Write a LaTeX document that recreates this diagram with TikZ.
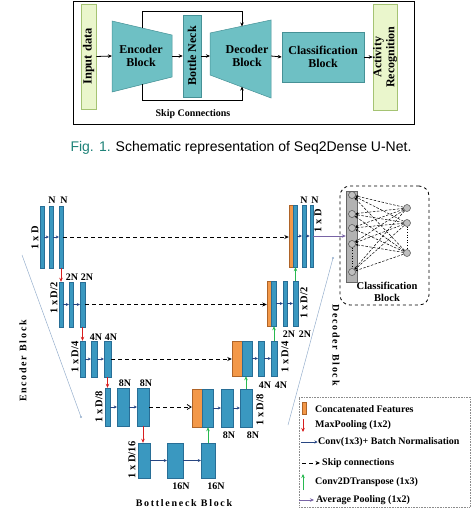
\documentclass[tikz,border=0pt]{standalone}
\usepackage{fontspec}
\setmainfont{Liberation Serif}
\newfontfamily\capfont{Liberation Sans}
\usetikzlibrary{arrows.meta}

\definecolor{topteal}{RGB}{110,192,196}
\definecolor{toptealline}{RGB}{70,145,150}
\definecolor{iofill}{RGB}{234,246,204}
\definecolor{ioline}{RGB}{165,195,115}
\definecolor{barfill}{RGB}{58,152,192}
\definecolor{barline}{RGB}{40,110,150}
\definecolor{catfill}{RGB}{243,152,72}
\definecolor{catline}{RGB}{175,100,40}
\definecolor{convblue}{RGB}{40,70,130}
\definecolor{poolred}{RGB}{215,30,30}
\definecolor{upgreen}{RGB}{40,185,80}
\definecolor{avgpurple}{RGB}{120,100,165}
\definecolor{diagblue}{RGB}{150,175,205}
\definecolor{figteal}{RGB}{30,130,120}

\tikzset{
  blk/.style={font=\bfseries\fontsize{12}{13}\selectfont, align=center, inner sep=0pt},
  iobox/.style={draw=ioline, fill=iofill, line width=0.6pt, inner sep=0pt},
  bar/.style={draw=barline, fill=barfill, line width=0.4pt, inner sep=0pt},
  cat/.style={draw=catline, fill=catfill, line width=0.4pt, inner sep=0pt},
  dim/.style={font=\bfseries\fontsize{10.5}{10.5}\selectfont, rotate=90, inner sep=0pt},
  nlab/.style={font=\bfseries\fontsize{10}{10}\selectfont, inner sep=0pt},
  leg/.style={font=\bfseries\fontsize{10}{10}\selectfont, anchor=west, inner sep=0pt},
  spaced/.style={font=\bfseries\fontsize{10}{10}\selectfont\addfontfeature{LetterSpace=17}, inner sep=0pt},
  flow/.style={-{Stealth[length=4pt,width=3.5pt]}, line width=0.8pt},
  conv/.style={-{Stealth[length=3pt,width=3pt]}, convblue, line width=0.6pt},
  pool/.style={-{Stealth[length=4pt,width=3.5pt]}, poolred, line width=0.7pt},
  upconv/.style={-{Stealth[length=4pt,width=3.5pt]}, upgreen, line width=0.7pt},
  skip/.style={-{Stealth[length=4.5pt,width=4pt]}, line width=0.8pt, dash pattern=on 4pt off 3pt},
  avg/.style={-{Stealth[length=4pt,width=3.5pt]}, avgpurple, line width=1pt},
  neuron/.style={circle, draw=black!70, fill=black!25, minimum size=7pt, inner sep=0pt, line width=0.5pt},
  diag/.style={diagblue, line width=0.5pt}
}

\begin{document}
\begin{tikzpicture}[x=1pt,y=-1pt]
\useasboundingbox (0,0) rectangle (474,532);

% Fig. 1 : block scheme
\draw[line width=0.6pt] (73,1.5) rectangle (414,124);
\node[iobox, minimum width=15pt, minimum height=105pt] (inp) at (88.5,56.5) {};
\node[blk, rotate=90, font=\bfseries\fontsize{12.5}{13}\selectfont] (inptxt) at (inp) {Input data};
\filldraw[fill=topteal, draw=toptealline, line width=0.5pt] (112,21) -- (172,35) -- (172,77) -- (112,92) -- cycle;
\node[blk] (enc) at (141,56) {Encoder\\Block};
\node[draw=toptealline, fill=topteal, line width=0.5pt, minimum width=18pt, minimum height=82pt, inner sep=0pt] (bn) at (192,56) {};
\node[blk, rotate=90] (bntxt) at (bn) {Bottle Neck};
\filldraw[fill=topteal, draw=toptealline, line width=0.5pt] (210,33) -- (271,20) -- (271,98) -- (210,75) -- cycle;
\node[blk] (dec) at (247,56) {Decoder\\Block};
\node[draw=toptealline, fill=topteal, line width=0.5pt, minimum width=82pt, minimum height=50pt, inner sep=0pt] (cls) at (323,57) {};
\node[blk] (clstxt) at (cls) {Classification\\Block};
\node[iobox, minimum width=24pt, minimum height=106pt] (act) at (385,57) {};
\node[blk, rotate=90] (acttxt) at (act) {Activity\\Recognition};

\coordinate (encL) at (112,56);
\coordinate (encR) at (172,56);
\coordinate (decL) at (210,56);
\coordinate (decR) at (271,56);
\coordinate (encT) at (142,28);
\coordinate (encB) at (142,84.5);
\coordinate (decT) at (242,26.5);
\coordinate (decB) at (242,86.5);
\draw[flow] (inp.east) -- (encL);
\draw[flow] (encR) -- (bn.west);
\draw[flow] (bn.east) -- (decL);
\draw[flow] (decR) -- (cls.west);
\draw[flow] (cls.east) -- (act.west);
\draw[flow] (encT) -- (encT |- 0,11) -| (decT);
\draw[flow] (encB) -- (encB |- 0,100) -| (decB);
\node[font=\bfseries\fontsize{10}{10}\selectfont] (skiptxt) at (193,114) {Skip Connections};

\node[font=\capfont\fontsize{14}{14}\selectfont] (cap) at (241,148)
  {\textcolor{figteal}{Fig. 1.}\hspace{5pt}Schematic representation of Seq2Dense U-Net.};

% Fig. 2 : encoder
\node[bar, minimum width=4pt, minimum height=62pt] (e1a) at (42,237) {};
\node[bar, minimum width=4pt, minimum height=62pt] (e1b) at (51,237) {};
\node[bar, minimum width=4pt, minimum height=62pt] (e1c) at (61,237) {};
\node[bar, minimum width=4pt, minimum height=45pt] (e2a) at (61,304.5) {};
\node[bar, minimum width=4pt, minimum height=45pt] (e2b) at (71,304.5) {};
\node[bar, minimum width=5pt, minimum height=45pt] (e2c) at (82.5,304.5) {};
\node[bar, minimum width=5pt, minimum height=36pt] (e3a) at (82.5,359) {};
\node[bar, minimum width=6pt, minimum height=36pt] (e3b) at (94,359) {};
\node[bar, minimum width=7pt, minimum height=36pt] (e3c) at (107.5,359) {};
\node[bar, minimum width=5pt, minimum height=38pt] (e4a) at (107.5,407) {};
\node[bar, minimum width=12pt, minimum height=38pt] (e4b) at (123,407) {};
\node[bar, minimum width=12pt, minimum height=38pt] (e4c) at (143,407) {};
% bottleneck
\node[bar, minimum width=12pt, minimum height=35pt] (b1) at (144,460.5) {};
\node[bar, minimum width=16pt, minimum height=35pt] (b2) at (175,460.5) {};
\node[bar, minimum width=14pt, minimum height=35pt] (b3) at (208,460.5) {};
% decoder
\node[cat, minimum width=10pt, minimum height=38pt] (d4o) at (197,408) {};
\node[bar, minimum width=11pt, minimum height=38pt] (d4a) at (207.5,408) {};
\node[bar, minimum width=12pt, minimum height=38pt] (d4b) at (227,408) {};
\node[bar, minimum width=12pt, minimum height=38pt] (d4c) at (246,408) {};
\node[cat, minimum width=10pt, minimum height=35pt] (d3o) at (237,358.5) {};
\node[bar, minimum width=10pt, minimum height=35pt] (d3a) at (247,358.5) {};
\node[bar, minimum width=6pt, minimum height=35pt] (d3b) at (261,358.5) {};
\node[bar, minimum width=6pt, minimum height=35pt] (d3c) at (274,358.5) {};
\node[cat, minimum width=4pt, minimum height=45pt] (d2o) at (269,303.5) {};
\node[bar, minimum width=5pt, minimum height=45pt] (d2a) at (273.5,303.5) {};
\node[bar, minimum width=4pt, minimum height=45pt] (d2b) at (285,303.5) {};
\node[bar, minimum width=5pt, minimum height=45pt] (d2c) at (295.5,303.5) {};
\node[cat, minimum width=4pt, minimum height=62pt] (d1o) at (291,236) {};
\node[bar, minimum width=4pt, minimum height=62pt] (d1a) at (295,236) {};
\node[bar, minimum width=4pt, minimum height=62pt] (d1b) at (304,236) {};
\node[bar, minimum width=3.5pt, minimum height=62pt] (d1c) at (311.5,236) {};

% conv arrows
\foreach \a/\b in {e1a/e1b,e1b/e1c,e2a/e2b,e2b/e2c,e3a/e3b,e3b/e3c,e4a/e4b,e4b/e4c,
                   b1/b2,b2/b3,d4a/d4b,d4b/d4c,d3a/d3b,d3b/d3c,d2a/d2b,d2b/d2c,d1a/d1b,d1b/d1c}
  \draw[conv] (\a) -- (\b);
% max pooling
\draw[pool] (e1c.south) -- (e2a.north);
\draw[pool] (e2c.south) -- (e3a.north);
\draw[pool] (e3c.south) -- (e4a.north);
\draw[pool] (e4c.south) -- (e4c.south |- b1.north);
% transpose conv
\draw[upconv] (b3.north) -- (b3.north |- d4a.south);
\draw[upconv] (d4c.north) -- (d4c.north |- d3a.south);
\draw[upconv] (d3c.north) -- (d3c.north |- d2a.south);
\draw[upconv] (d2c.north) -- (d2c.north |- d1a.south);
% skip connections
\draw[skip] (e1c.east) -- (e1c.east -| d1o.west);
\draw[skip] (e2c.east) -- (e2c.east -| d2o.west);
\draw[skip] (e3c.east) -- (e3c.east -| d3o.west);
\draw[skip, -{Straight Barb[length=4pt,width=5pt]}] (e4c.east) -- (e4c.east -| d4o.west);

% sizes
\node[nlab] (n1a) at (52,200) {N};
\node[nlab] (n1b) at (64,200) {N};
\node[nlab] (n2a) at (72,277) {2N};
\node[nlab] (n2b) at (87,277) {2N};
\node[nlab] (n3a) at (96,337) {4N};
\node[nlab] (n3b) at (111,337) {4N};
\node[nlab] (n4a) at (125,383) {8N};
\node[nlab] (n4b) at (146,383) {8N};
\node[nlab] (n5a) at (181,486) {16N};
\node[nlab] (n5b) at (216,486) {16N};
\node[nlab] (m4a) at (229,435) {8N};
\node[nlab] (m4b) at (253,435) {8N};
\node[nlab] (m3a) at (265,385) {4N};
\node[nlab] (m3b) at (281,385) {4N};
\node[nlab] (m2a) at (289,334) {2N};
\node[nlab] (m2b) at (305,334) {2N};
\node[nlab] (m1a) at (304,200) {N};
\node[nlab] (m1b) at (315,200) {N};

\node[dim] (s1) at (35,238) {1 x D};
\node[dim] (s2) at (54,298) {1 x D/2};
\node[dim] (s3) at (75,357) {1 x D/4};
\node[dim] (s4) at (99,407) {1 x D/8};
\node[dim] (s5) at (132,460) {1 x D/16};
\node[dim] (r4) at (260,410) {1 x D/8};
\node[dim] (r3) at (285,357) {1 x D/4};
\node[dim] (r2) at (304,303) {1 x D/2};
\node[dim] (r1) at (318,221) {1 x D};

% block names
\coordinate (encA) at (22,255);
\coordinate (encZ) at (81,417);
\coordinate (decA) at (288,425);
\coordinate (decZ) at (333,258);
\draw[diag] (encA) -- (encZ);
\fill[diagblue] (encZ) circle (1.2pt);
\draw[diag] (decA) -- (decZ);
\fill[diagblue] (decZ) circle (1.2pt);
\node[spaced, rotate=90] (enclab) at (23,361) {Encoder Block};
\node[spaced, rotate=-90] (declab) at (336,345) {Decoder Block};
\node[spaced] (bnlab) at (184,503) {Bottleneck Block};

% classification block
\node[draw, dashed, rounded corners=10pt, line width=0.8pt, minimum width=89pt, minimum height=119pt] (clsb) at (384.5,245.5) {};
\node[draw=black!60, fill=black!30, minimum width=11pt, minimum height=91pt, inner sep=0pt] (col) at (351.5,236.5) {};
\node[neuron] (p1) at (352,195) {};
\node[neuron] (p2) at (352,214) {};
\node[neuron] (p3) at (352,228) {};
\node[neuron] (p4) at (352,244) {};
\node[neuron] (p5) at (352,272) {};
\node[neuron] (q1) at (407,208) {};
\node[neuron] (q2) at (407,223) {};
\node[neuron] (q3) at (407,253) {};
\foreach \i in {1,...,5}
  \foreach \j in {1,2,3}
    \draw[line width=0.5pt, dash pattern=on 2.5pt off 1.5pt, -{Stealth[length=2.5pt,width=2.5pt]}] (q\j) -- (p\i);
\draw[dotted, line width=0.6pt] (p4) -- (p5);
\draw[dotted, line width=0.6pt] (q2) -- (q3);
\node[font=\bfseries\fontsize{10.5}{12}\selectfont, align=center] (clslab) at (387,292) {Classification\\Block};
\draw[avg] (d1c.east) -- (d1c.east -| col.west);

% legend
\node[draw=black!45, densely dotted, line width=0.6pt, minimum width=171pt, minimum height=110pt] (legend) at (384.5,452) {};
\node[cat, minimum width=4pt, minimum height=12pt] (lcat) at (304,408) {};
\node[leg] (t1) at (315,409) {Concatenated Features};
\coordinate (lpA) at (303,419);
\coordinate (lpB) at (303,432);
\draw[pool] (lpA) -- (lpB);
\node[leg] (t2) at (315,425) {MaxPooling (1x2)};
\coordinate (lcA) at (301,442);
\coordinate (lcB) at (317.5,442);
\draw[conv, line width=0.7pt] (lcA) -- (lcB);
\node[leg] (t3) at (318,442) {Conv(1x3)+ Batch Normalisation};
\coordinate (lsA) at (302,463);
\coordinate (lsB) at (320,463);
\draw[skip] (lsA) -- (lsB);
\node[leg] (t4) at (322,463) {Skip connections};
\coordinate (luA) at (303,490);
\coordinate (luB) at (303,474);
\draw[upconv] (luA) -- (luB);
\node[leg] (t5) at (315,482) {Conv2DTranspose (1x3)};
\coordinate (laA) at (299,500);
\coordinate (laB) at (314,500);
\draw[avg] (laA) -- (laB);
\node[leg] (t6) at (316,500) {Average Pooling (1x2)};
\end{tikzpicture}
\end{document}
